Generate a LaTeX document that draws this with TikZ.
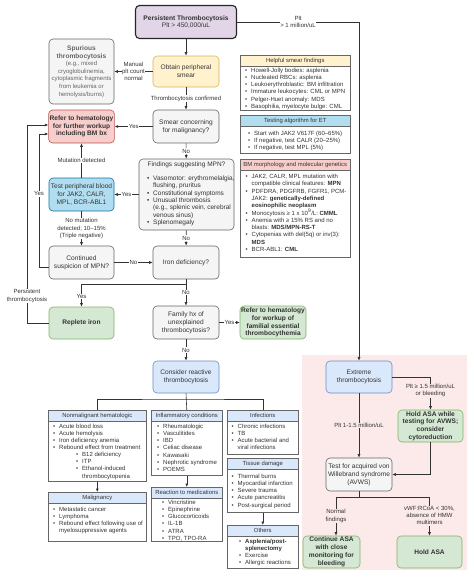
\documentclass[tikz,border=0pt]{standalone}
\usepackage{fontspec}
\setmainfont{Liberation Sans}
\usetikzlibrary{arrows.meta}
\definecolor{cline}{HTML}{333333}
\definecolor{cpurple}{HTML}{E1D5E7}
\definecolor{cgray}{HTML}{F5F5F5}
\definecolor{cgrayb}{HTML}{666666}
\definecolor{cyellow}{HTML}{FFF2CC}
\definecolor{cyellowb}{HTML}{D6B656}
\definecolor{cred}{HTML}{F8CECC}
\definecolor{credb}{HTML}{B85450}
\definecolor{cblue}{HTML}{B1DDF0}
\definecolor{cblueb}{HTML}{10739E}
\definecolor{cgreen}{HTML}{D5E8D4}
\definecolor{cgreenb}{HTML}{82B366}
\definecolor{clblue}{HTML}{DAE8FC}
\definecolor{clblueb}{HTML}{6C8EBF}
\definecolor{cpink}{HTML}{FBEAE9}
\definecolor{ctext}{HTML}{333333}
\definecolor{clight}{HTML}{666666}
\newcommand\bu{\makebox[6pt][l]{\textbullet}}
\newcommand\ct{\hspace*{6pt}}
\newcommand\lbox[7]{%
 \node[lbody, anchor=north west, minimum width={(#4)-(#2)}, minimum height={(#5)-(#3)}] (#1) at (#2,#3) {};
 \node[lhead, anchor=north west, fill=#6, minimum width={(#4)-(#2)}] (#1h) at (#2,#3) {#7};
}
\newcommand\sbf[1]{{\fontsize{6.6}{7.6}\selectfont\bfseries #1}}
\tikzset{
 box/.style={draw=cgrayb, rounded corners=4pt, line width=0.6pt, align=center, inner sep=1pt, font=\fontsize{6.6}{7.8}\selectfont, text=ctext},
 gbox/.style={box, fill=cgray},
 ybox/.style={box, fill=cyellow, draw=cyellowb},
 rbox/.style={box, fill=cred, draw=credb, font=\fontsize{6.6}{7.8}\selectfont\bfseries},
 bbox/.style={box, fill=cblue, draw=cblueb},
 grbox/.style={box, fill=cgreen, draw=cgreenb, font=\fontsize{6.6}{7.8}\selectfont\bfseries},
 lbbox/.style={box, fill=clblue, draw=clblueb},
 lbl/.style={font=\fontsize{6}{7.3}\selectfont, fill=white, inner sep=0.6pt, align=center, text=ctext},
 plbl/.style={lbl, fill=cpink},
 arr/.style={draw=cline, line width=0.6pt, -{Latex[length=3.5pt,width=3pt]}},
 ln/.style={draw=cline, line width=0.6pt},
 lbody/.style={draw=cgrayb, fill=white, line width=0.6pt, inner sep=0},
 lhead/.style={draw=cgrayb, line width=0.6pt, inner sep=0, minimum height=11pt, font=\fontsize{5.9}{7}\selectfont, text=ctext},
 ltext/.style={anchor=north west, inner sep=0, align=left, font=\fontsize{6}{7.3}\selectfont, text=ctext},
}
\begin{document}
\begin{tikzpicture}[x=1pt,y=-1pt]
\useasboundingbox (0,0) rectangle (474,579);
\fill[cpink] (302,355) rectangle (467,570);

% main flow boxes
\node[box, fill=cpurple, draw=black!85, line width=1.1pt, minimum width=101pt, minimum height=33pt] (persist) at (186,22) {\textbf{Persistent Thrombocytosis}\\Plt > 450,000/uL};
\node[ybox, minimum width=66pt, minimum height=31pt] (smear) at (186,71.5) {Obtain peripheral\\smear};
\node[gbox, minimum width=65pt, minimum height=65pt, text=clight, font=\fontsize{6}{7.6}\selectfont] (spur) at (81.5,71.5) {\sbf{Spurious}\\\sbf{thrombocytosis}\\(e.g., mixed\\cryoglobulinemia,\\cytoplasmic fragments\\from leukemia or\\hemolysis/burns)};
\node[gbox, minimum width=66pt, minimum height=33pt] (concern) at (186,126.5) {Smear concerning\\for malignancy?};
\node[rbox, minimum width=65pt, minimum height=33pt] (refer) at (81.5,126.5) {Refer to hematology\\for further workup\\including BM bx};
\node[gbox, minimum width=95pt, minimum height=71pt] (findings) at (186.5,194.5) {};
\node[font=\fontsize{6.5}{7.5}\selectfont, text=ctext, inner sep=0] (findt) at (186.5,165) {Findings suggesting MPN?};
\node[ltext, font=\fontsize{6.5}{7.33}\selectfont] (findl) at (147,175.5) {\bu Vasomotor: erythromelalgia,\\\ct flushing, pruritus\\\bu Constitutional symptoms\\\bu Unusual thrombosis\\\ct (e.g., splenic vein, cerebral\\\ct venous sinus)\\\bu Splenomegaly};
\node[bbox, minimum width=65pt, minimum height=33pt] (test) at (81.5,194.5) {Test peripheral blood\\for JAK2, CALR,\\MPL, BCR-ABL1};
\node[gbox, minimum width=65pt, minimum height=33pt] (cont) at (81.5,262.5) {Continued\\suspicion of MPN?};
\node[gbox, minimum width=66pt, minimum height=33pt] (iron) at (186,262.5) {Iron deficiency?};
\node[grbox, minimum width=65pt, minimum height=32pt] (replete) at (81.5,323) {Replete iron};
\node[gbox, minimum width=66pt, minimum height=33pt] (family) at (186,322.5) {Family hx of\\unexplained\\thrombocytosis?};
\node[grbox, minimum width=66pt, minimum height=33pt] (famref) at (273,322.5) {Refer to hematology\\for workup of\\familial essential\\thrombocythemia};
\node[lbbox, minimum width=66pt, minimum height=32pt] (consider) at (186,377) {Consider reactive\\thrombocytosis};

% extreme region
\node[lbbox, minimum width=66pt, minimum height=32pt] (extreme) at (359,377) {Extreme\\thrombocytosis};
\node[grbox, minimum width=65pt, minimum height=32pt] (holdtest) at (430.5,426) {Hold ASA while\\testing for AVWS;\\consider\\cytoreduction};
\node[gbox, minimum width=66pt, minimum height=33pt] (avws) at (359,474.5) {Test for acquired von\\Willebrand syndrome\\(AVWS)};
\node[grbox, minimum width=57pt, minimum height=32pt] (contasa) at (331.5,552) {Continue ASA\\with close\\monitoring for\\bleeding};
\node[grbox, minimum width=65pt, minimum height=32pt] (hold) at (429.5,552) {Hold ASA};

% right info boxes
\lbox{helpful}{240}{55}{350}{110}{cyellow}{Helpful smear findings}
\node[ltext] (helpfult) at (245,67.5) {\bu Howell-Jolly bodies: asplenia\\\bu Nucleated RBCs: asplenia\\\bu Leukoerythroblastic: BM infiltration\\\bu Immature leukocytes: CML or MPN\\\bu Pelger-Huet anomaly: MDS\\\bu Basophilia, myelocyte bulge: CML};
\lbox{testing}{240}{115}{350}{153}{cblue}{Testing algorithm for ET}
\node[ltext] (testingt) at (248,130.5) {\bu Start with JAK2 V617F (60–65\%)\\\bu If negative, test CALR (20–25\%)\\\bu If negative, test MPL (5\%)};
\lbox{bm}{240}{159}{350}{257}{cred}{BM morphology and molecular genetics}
\node[ltext] (bmt) at (245.5,174) {\bu JAK2, CALR, MPL mutation with\\\ct compatible clinical features: \textbf{MPN}\\\bu PDFDRA, PDGFRB, FGFR1, PCM-\\\ct JAK2: \textbf{genetically-defined}\\\ct \textbf{eosinophilic neoplasm}\\\bu Monocytosis ≥ 1 x 10\textsuperscript{9}/L: \textbf{CMML}\\\bu Anemia with ≥ 15\% RS and no\\\ct blasts: \textbf{MDS/MPN-RS-T}\\\bu Cytopenias with del(5q) or inv(3):\\\ct \textbf{MDS}\\\bu BCR-ABL1: \textbf{CML}};

% reactive causes
\lbox{nonmal}{48}{410}{146}{481}{clblue}{Nonmalignant hematologic}
\node[ltext, font=\fontsize{6}{7.15}\selectfont] (nonmalt) at (53,423.5) {\bu Acute blood loss\\\bu Acute hemolysis\\\bu Iron deficiency anemia\\\bu Rebound effect from treatment\\\hspace*{23pt}\bu B12 deficiency\\\hspace*{23pt}\bu ITP\\\hspace*{23pt}\bu Ethanol-induced\\\hspace*{29pt}thrombocytopenia};
\lbox{malig}{48}{492}{146}{541}{clblue}{Malignancy}
\node[ltext] (maligt) at (53,506.5) {\bu Metastatic cancer\\\bu Lymphoma\\\bu Rebound effect following use of\\\ct myelosuppressive agents};
\lbox{inflam}{151}{410}{222}{475}{clblue}{Inflammatory conditions}
\node[ltext] (inflamt) at (157,423.5) {\bu Rheumatologic\\\bu Vasculitides\\\bu IBD\\\bu Celiac disease\\\bu Kawasaki\\\bu Nephrotic syndrome\\\bu POEMS};
\lbox{react}{151}{487}{222}{541}{clblue}{Reaction to medications}
\node[ltext] (reactt) at (162,499.5) {\bu Vincristine\\\bu Epinephrine\\\bu Glucocorticoids\\\bu IL-1B\\\bu ATRA\\\bu TPO, TPO-RA};
\lbox{infect}{227}{410}{298}{454}{clblue}{Infections}
\node[ltext] (infectt) at (231.5,423.5) {\bu Chronic infections\\\bu TB\\\bu Acute bacterial and\\\ct viral infections};
\lbox{tissue}{227}{458}{298}{512}{clblue}{Tissue damage}
\node[ltext] (tissuet) at (231.5,473.5) {\bu Thermal burns\\\bu Myocardial infarction\\\bu Severe trauma\\\bu Acute pancreatitis\\\bu Post-surgical period};
\lbox{others}{227}{525}{298}{568}{clblue}{Others}
\node[ltext] (otherst) at (239,538.5) {\bu \textbf{Asplenia/post-}\\\ct \textbf{splenectomy}\\\bu Exercise\\\bu Allergic reactions};

% coordinates
\coordinate (o1) at (27,125);
\coordinate (i1) at (39,134);
\coordinate (ij) at (186,284);
\coordinate (cj) at (186,399);
\coordinate (aj) at (359,497);

% connectors
\draw[arr] (persist) -- (smear);
\draw[arr] (persist.east) -| (extreme.north) node[pos=0.25, lbl] {Plt\\> 1 million/uL};
\draw[arr] (smear) -- (spur) node[midway, lbl] {Manual\\plt count\\normal};
\draw[arr] (smear) -- (concern) node[midway, lbl] {Thrombocytosis confirmed};
\draw[arr] (concern) -- (refer) node[midway, lbl] {Yes};
\draw[arr] (concern) -- (findings) node[midway, lbl] {No};
\draw[arr] (findings) -- (test) node[midway, lbl] {Yes};
\draw[arr] (test) -- (refer) node[midway, lbl] {Mutation detected};
\draw[arr] (test) -- (cont) node[midway, lbl] {No mutation\\detected; 10–15\%\\(Triple negative)};
\draw[arr] (cont) -- (iron) node[midway, lbl] {No};
\draw[arr] (findings) -- (iron) node[midway, lbl] {No};
\draw[arr] ([yshift=-4.5pt]cont.west) -| (i1) node[pos=0.775, lbl] {Yes} -- (refer.west |- i1);
\draw[arr] (replete.west) -| (o1) node[pos=0.568, lbl] {Persistent\\thrombocytosis} -- (refer.west |- o1);
\draw[arr] (iron) -- (family) node[pos=0.5, lbl] {No};
\draw[arr] (ij) -| (replete.north) node[pos=0.78, lbl] {Yes};
\draw[arr] (family) -- (famref) node[midway, lbl] {Yes};
\draw[arr] (family) -- (consider) node[midway, lbl] {No};
\draw[ln] (consider.south) -- (inflam.north);
\draw[ln] (nonmal.north) |- (cj) -| (infect.north);
\draw[arr] (nonmal) -- (malig);
\draw[arr] (inflam) -- (react);
\draw[arr] (tissue) -- (others);
\draw[arr] (extreme.east) -| (holdtest.north) node[pos=0.71, plbl] {Plt ≥ 1.5 million/uL\\or bleeding};
\draw[arr] (extreme) -- (avws) node[midway, plbl] {Plt 1-1.5 million/uL};
\draw[arr] (holdtest.south) |- (avws.east);
\draw[ln] (avws.south) -- (aj);
\draw[arr] (aj) -| ([xshift=4.5pt]contasa.north) node[pos=0.745, plbl] {Normal\\findings};
\draw[arr] (aj) -| (hold.north) node[pos=0.74, plbl] {vWF:RCoA < 30\%,\\absence of HMW\\multimers};
\end{tikzpicture}
\end{document}
